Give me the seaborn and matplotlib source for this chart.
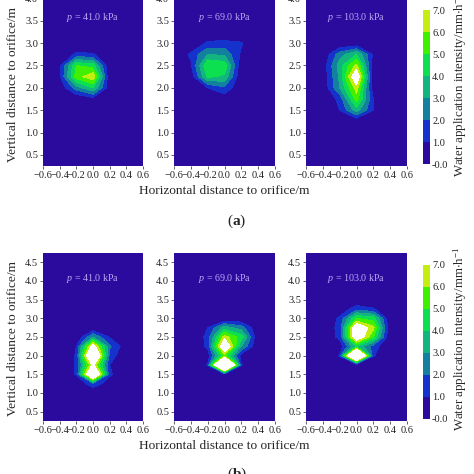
import numpy as np
import matplotlib
matplotlib.use('Agg')
import matplotlib.pyplot as plt
from matplotlib.colors import ListedColormap, BoundaryNorm
from matplotlib.cm import ScalarMappable
import seaborn as sns

sns.set_theme(style='ticks')
plt.rcParams['font.family'] = ['Liberation Serif', 'DejaVu Serif']
plt.rcParams['mathtext.fontset'] = 'custom'
plt.rcParams['mathtext.rm'] = 'Liberation Serif'
plt.rcParams['mathtext.it'] = 'Liberation Serif:italic'
plt.rcParams['mathtext.bf'] = 'Liberation Serif:bold'
plt.rcParams['mathtext.default'] = 'regular'

x_grid = [-0.6, -0.4, -0.2, 0.0, 0.2, 0.4, 0.6]
y_grid = [0.25, 0.5, 0.75, 1.0, 1.25, 1.5, 1.75, 2.0, 2.25, 2.5, 2.75, 3.0, 3.25, 3.5, 3.75, 4.0, 4.25, 4.5, 4.75]
# measured rows only, everything outside these is zero
y_measured = [1.25, 1.5, 1.75, 2.0, 2.25, 2.5, 2.75, 3.0, 3.25]

a_41 = [[0, 0, 0, 0, 0, 0, 0],
        [0, 0, 0, 0, 0, 0, 0],
        [0, 0, 0, 0.5, 0, 0, 0],
        [0, 0.2, 2.5, 4, 0.3, 0, 0],
        [0, 0.8, 5.5, 6.8, 0, 0, 0],
        [0, 0.7, 5, 4.5, 0, 0, 0],
        [0, 0, 1.2, 1.1, 0, 0, 0],
        [0, 0, 0, 0, 0, 0, 0],
        [0, 0, 0, 0, 0, 0, 0]]
a_69 = [[0, 0, 0, 0, 0, 0, 0],
        [0, 0, 0, 0, 0, 0, 0],
        [0, 0, 0, 0.3, 0, 0, 0],
        [0, 0, 1, 1.8, 0, 0, 0],
        [0, 0.3, 4.2, 3.8, 0, 0, 0],
        [0, 0.8, 5, 4.7, 0.2, 0, 0],
        [0, 1.2, 3, 2.8, 0.8, 0, 0],
        [0, 0, 1.2, 1.3, 1.1, 0, 0],
        [0, 0, 0, 0, 0, 0, 0]]
a_103 = [[0, 0, 0, 0, 0, 0, 0],
         [0, 0, 1, 3.5, 1, 0, 0],
         [0, 0, 1.3, 5.5, 1, 0, 0],
         [0, 0.1, 3, 6.5, 0.3, 0, 0],
         [0, 0.2, 3.2, 8.5, 0, 0, 0],
         [0, 0.3, 3.5, 6.3, 0.3, 0, 0],
         [0, 0.1, 2.5, 4, 0.8, 0, 0],
         [0, 0, 0, 0, 0, 0, 0],
         [0, 0, 0, 0, 0, 0, 0]]
b_41 = [[0, 0, 0, 1.7, 0.3, 0, 0],
        [0, 0, 1.1, 11, 1.2, 0, 0],
        [0, 0, 1.1, 7.3, 1, 0, 0],
        [0, 0, 1.1, 11, 1.6, 0, 0],
        [0, 0, 1, 7.8, 2.2, 0.3, 0],
        [0, 0, 0, 3, 0.9, 0, 0],
        [0, 0, 0, 0, 0, 0, 0],
        [0, 0, 0, 0, 0, 0, 0],
        [0, 0, 0, 0, 0, 0, 0]]
b_69 = [[0, 0, 0, 0, 0, 0, 0],
        [0, 0, 0, 0.5, 0, 0, 0],
        [0, 0, 1.1, 16, 1.1, 0, 0],
        [0, 0, 0.4, 5.5, 0.5, 0, 0],
        [0, 0, 1.2, 9, 3, 0, 0],
        [0, 0, 1.3, 6.5, 4.5, 0, 0],
        [0, 0, 1, 3.5, 2.5, 0, 0],
        [0, 0, 0, 0, 0, 0, 0],
        [0, 0, 0, 0, 0, 0, 0]]
b_103 = [[0, 0, 0, 0, 0, 0, 0],
         [0, 0, 0, 0, 0, 0, 0],
         [0, 0, 0, 0, 0, 0, 0],
         [0, 0, 1.1, 14, 1.1, 0, 0],
         [0, 0, 0.3, 4, 1.5, 0, 0],
         [0, 0, 1.3, 8.5, 5, 0, 0],
         [0, 0, 1.4, 8.5, 6.3, 0, 0],
         [0, 0, 1.2, 5, 4.5, 0, 0],
         [0, 0, 0.2, 1.6, 1.1, 0, 0]]

pressures = ['41.0', '69.0', '103.0']
levels = [0, 1, 2, 3, 4, 5, 6, 7]
level_colors = ['#2b0a9e', '#1632cc', '#1480a0', '#12b480', '#0ce050', '#40f000', '#c4ee10']
level_labels = ['-0.0', '1.0', '2.0', '3.0', '4.0', '5.0', '6.0', '7.0']
x_ticks = [-0.6, -0.4, -0.2, 0.0, 0.2, 0.4, 0.6]
y_ticks = [0.5, 1.0, 1.5, 2.0, 2.5, 3.0, 3.5, 4.0, 4.5]

W = 474.0
cmap = ListedColormap(sns.color_palette(level_colors))
cmap.set_over('white')


def full_grid(rows):
    # pad the measured rows back out to the whole y range
    z = np.zeros((len(y_grid), len(x_grid)))
    for y, row in zip(y_measured, rows):
        z[y_grid.index(y)] = row
    return z


def px_axes(fig, left, top, right, bottom):
    return fig.add_axes([left / W, 1 - bottom / W, (right - left) / W, (bottom - top) / W])


def draw_row(fig, panels, top, bottom, cb_top, cb_bottom, p_y, ylabel_y, label_y, cb_label_y, tag, tag_y):
    norm = BoundaryNorm(levels, cmap.N)
    for (left, right), rows, p in zip([(43, 143), (174, 275), (306, 407)], panels, pressures):
        ax = px_axes(fig, left, top, right, bottom)
        ax.contourf(x_grid, y_grid, full_grid(rows), levels=levels, cmap=cmap, norm=norm, extend='max')
        ax.set_xlim(-0.6, 0.6)
        ax.set_ylim(0.25, 4.75)
        ax.set_xticks(x_ticks)
        ax.set_yticks(y_ticks)
        ax.tick_params(labelsize=7.5, length=2, width=0.5, pad=1.5, colors='#222222')
        for s in ax.spines.values():
            s.set_visible(False)
        ax.text(0.0, p_y, f'$\\mathit{{p}}$ = {p} kPa', color='#b9a8f5', fontsize=7.2, ha='center', va='center')

    fig.text(13 / W, 1 - ylabel_y / W, 'Vertical distance to orifice/m', fontsize=9.6, rotation=90,
             ha='center', va='center')
    fig.text(224 / W, 1 - label_y / W, 'Horizontal distance to orifice/m', fontsize=9.6, ha='center', va='center')
    fig.text(237 / W, 1 - tag_y / W, tag, fontsize=11, ha='center', va='center')

    cax = px_axes(fig, 423, cb_top, 430, cb_bottom)
    cb = fig.colorbar(ScalarMappable(norm=norm, cmap=cmap), cax=cax, ticks=levels, spacing='proportional')
    cb.ax.set_yticklabels(level_labels)
    cb.ax.tick_params(labelsize=7.5, length=0, pad=1.5, colors='#222222')
    cb.outline.set_visible(False)
    fig.text(460 / W, 1 - cb_label_y / W, 'Water application intensity/mm$\\cdot$h$^{-1}$', fontsize=9.3, rotation=90,
             ha='center', va='center')


fig = plt.figure(figsize=(4.74, 4.74), dpi=100)
draw_row(fig, [a_41, a_69, a_103], -35, 166, 10, 164, 3.57, 84, 191, 85, '($\\mathbf{a}$)', 221)
draw_row(fig, [b_41, b_69, b_103], 253, 421, 265, 419, 4.07, 338, 446, 339, '($\\mathbf{b}$)', 474)
fig.savefig('out.png', dpi=100)
